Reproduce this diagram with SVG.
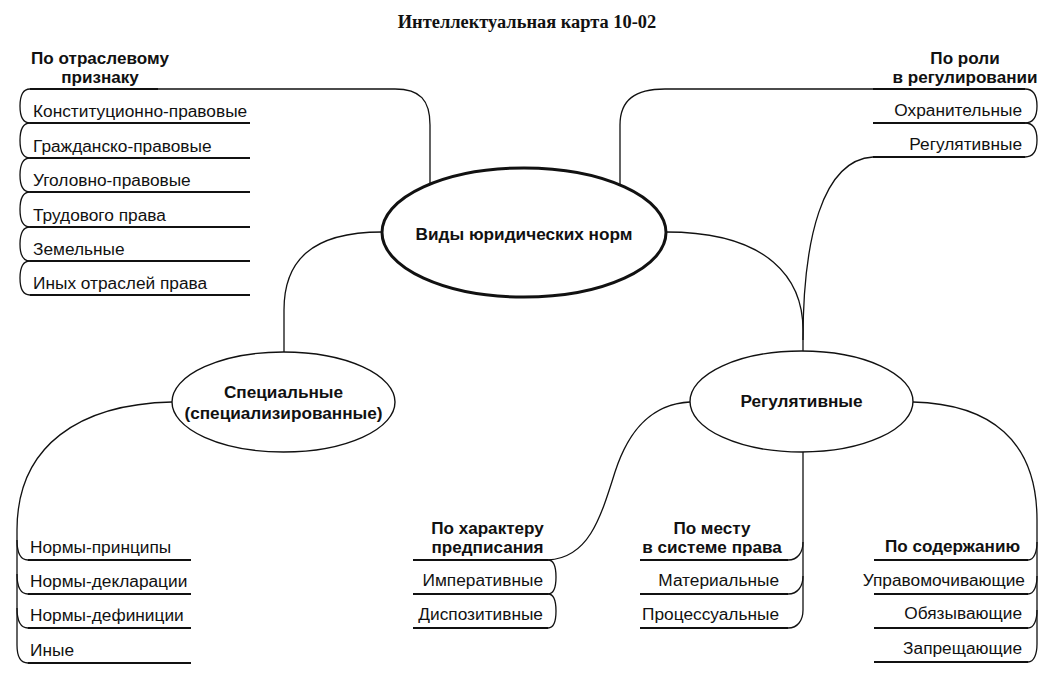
<svg xmlns="http://www.w3.org/2000/svg" width="1042" height="693" viewBox="0 0 1042 693">
<style>
.bg{fill:#fff}
.title{font-family:"Liberation Serif","Times New Roman",serif;font-weight:bold;font-size:18.4px;fill:#111}
.t{font-family:"Liberation Sans",Arial,sans-serif;font-size:17.3px;fill:#111}
.h{font-family:"Liberation Sans",Arial,sans-serif;font-size:17.1px;font-weight:bold;fill:#111}
.c{font-family:"Liberation Sans",Arial,sans-serif;font-size:17.2px;font-weight:bold;fill:#111}
.conn{fill:none;stroke:#111;stroke-width:1.3}
.ul{fill:none;stroke:#111;stroke-width:2.2}
.main{fill:#fff;stroke:#111;stroke-width:3}
.sub{fill:#fff;stroke:#111;stroke-width:1.4}
</style>
<rect class="bg" x="0" y="0" width="1042" height="693"/>
<text class="title" x="527" y="28" text-anchor="middle">Интеллектуальная карта 10-02</text>

<g id="connectors">
  <path class="conn" d="M158 89 H395 C420 89 430 100 430 125 V184"/>
  <path class="conn" d="M620 186 V125 C620 100 635 89 665 89 H873"/>
  <path class="conn" d="M382 232 C310 232 284 262 284 310 V352"/>
  <path class="conn" d="M666 232 C770 232 803 280 803 330 V351"/>
  <path class="conn" d="M873 157 C822 160 803 240 803 340"/>
  <path class="conn" d="M172 402 C80 404 17 445 17 530 V645 C17 655 20 663 28 663"/>
  <path class="conn" d="M690 402 C650 404 628 432 615 472 C600 520 588 558 548 560"/>
  <path class="conn" d="M803 452 V610 C803 620 798 628 788 628"/>
  <path class="conn" d="M913 402 C990 404 1037 440 1037 520 V644 C1037 654 1034 662 1028 662"/>
</g>

<g id="node-center">
  <ellipse class="main" cx="524" cy="232.5" rx="142" ry="64.5"/>
  <text class="c" x="524" y="240" text-anchor="middle">Виды юридических норм</text>
</g>

<g id="node-special">
  <ellipse class="sub" cx="283.5" cy="402" rx="111.5" ry="50"/>
  <text class="c" x="283.5" y="398" text-anchor="middle">Специальные</text>
  <text class="c" x="283.5" y="419" text-anchor="middle">(специализированные)</text>
</g>

<g id="node-regulative">
  <ellipse class="sub" cx="801.5" cy="401.5" rx="111.5" ry="50.5"/>
  <text class="c" x="801.5" y="407" text-anchor="middle">Регулятивные</text>
</g>

<g id="group-branch">
  <text class="h" x="100" y="64" text-anchor="middle">По отраслевому</text>
  <text class="h" x="100" y="83" text-anchor="middle">признаку</text>
  <path class="ul" d="M30 89 H158"/>
  <path class="conn" d="M30 89 Q20 89 20 106 Q20 123 30 123"/>
  <path class="conn" d="M30 123 Q20 123 20 140.5 Q20 158 30 158"/>
  <path class="conn" d="M30 158 Q20 158 20 175 Q20 192 30 192"/>
  <path class="conn" d="M30 192 Q20 192 20 209.5 Q20 227 30 227"/>
  <path class="conn" d="M30 227 Q20 227 20 244 Q20 261 30 261"/>
  <path class="conn" d="M30 261 Q20 261 20 278 Q20 295 30 295"/>
  <path class="ul" d="M30 123 H250 M30 158 H250 M30 192 H250 M30 227 H250 M30 261 H250 M30 295 H250"/>
  <text class="t" x="33" y="117">Конституционно-правовые</text>
  <text class="t" x="33" y="152">Гражданско-правовые</text>
  <text class="t" x="33" y="186">Уголовно-правовые</text>
  <text class="t" x="33" y="221">Трудового права</text>
  <text class="t" x="33" y="255">Земельные</text>
  <text class="t" x="33" y="289">Иных отраслей права</text>
</g>

<g id="group-role">
  <text class="h" x="965" y="64" text-anchor="middle">По роли</text>
  <text class="h" x="965" y="83" text-anchor="middle">в регулировании</text>
  <path class="ul" d="M873 89 H1025"/>
  <path class="conn" d="M1025 89 Q1037 89 1037 106 Q1037 123 1025 123"/>
  <path class="conn" d="M1025 123 Q1037 123 1037 140 Q1037 157 1025 157"/>
  <path class="ul" d="M873 123 H1025 M873 157 H1025"/>
  <text class="t" x="1022" y="116" text-anchor="end">Охранительные</text>
  <text class="t" x="1022" y="150" text-anchor="end">Регулятивные</text>
</g>

<g id="group-special-list">
  <path class="conn" d="M17 540 C17 552 20 560 28 560"/>
  <path class="conn" d="M17 574 C17 586 20 594 28 594"/>
  <path class="conn" d="M17 608 C17 620 20 628 28 628"/>
  <path class="ul" d="M28 560 H191 M28 594 H191 M28 628 H191 M28 663 H191"/>
  <text class="t" x="30" y="553">Нормы-принципы</text>
  <text class="t" x="30" y="587">Нормы-декларации</text>
  <text class="t" x="30" y="621">Нормы-дефиниции</text>
  <text class="t" x="30" y="656">Иные</text>
</g>

<g id="group-character">
  <text class="h" x="487.5" y="534" text-anchor="middle">По характеру</text>
  <text class="h" x="487.5" y="553" text-anchor="middle">предписания</text>
  <path class="ul" d="M413 560 H548 M413 594 H548 M413 628 H548"/>
  <path class="conn" d="M548 560 Q556 560 556 577 Q556 594 548 594"/>
  <path class="conn" d="M548 594 Q556 594 556 611 Q556 628 548 628"/>
  <text class="t" x="543" y="586" text-anchor="end">Императивные</text>
  <text class="t" x="543" y="620" text-anchor="end">Диспозитивные</text>
</g>

<g id="group-place">
  <text class="h" x="712" y="534" text-anchor="middle">По месту</text>
  <text class="h" x="712" y="553" text-anchor="middle">в системе права</text>
  <path class="ul" d="M640 560 H788 M640 594 H788 M640 628 H788"/>
  <path class="conn" d="M788 560 C798 560 803 552 803 542"/>
  <path class="conn" d="M788 594 C798 594 803 586 803 576"/>
  <text class="t" x="779" y="586" text-anchor="end">Материальные</text>
  <text class="t" x="779" y="620" text-anchor="end">Процессуальные</text>
</g>

<g id="group-content">
  <text class="h" x="1020" y="552" text-anchor="end">По содержанию</text>
  <path class="ul" d="M874 560 H1028 M874 594 H1028 M874 628 H1028 M874 662 H1028"/>
  <path class="conn" d="M1028 560 C1034 560 1037 552 1037 542"/>
  <path class="conn" d="M1028 594 C1034 594 1037 586 1037 576"/>
  <path class="conn" d="M1028 628 C1034 628 1037 620 1037 610"/>
  <text class="t" x="1025" y="586" text-anchor="end">Управомочивающие</text>
  <text class="t" x="1022" y="619" text-anchor="end">Обязывающие</text>
  <text class="t" x="1022" y="654" text-anchor="end">Запрещающие</text>
</g>
</svg>
